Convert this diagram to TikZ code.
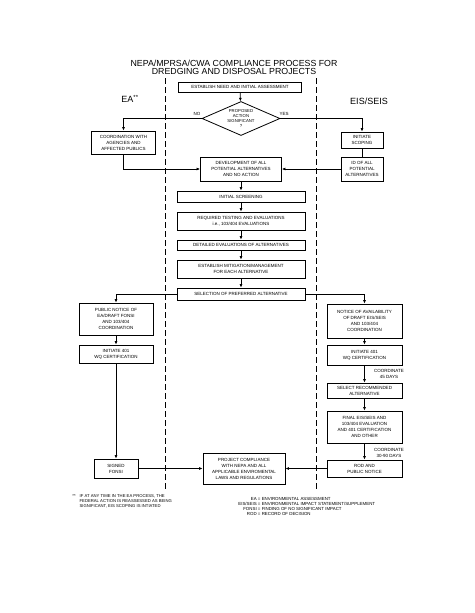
\documentclass[tikz,border=0pt]{standalone}
\usepackage{fontspec}
\setmainfont{Liberation Sans}
\usetikzlibrary{arrows.meta,shapes.geometric,shadows}

\begin{document}
\begin{tikzpicture}[x=1pt,y=-1pt,line width=0.8pt,
  box/.style={draw,fill=white,align=center,inner sep=1pt,font=\fontsize{4.5}{6}\selectfont,
    drop shadow={shadow xshift=0.8pt,shadow yshift=-0.8pt,opacity=1,fill=black}},
  lbl/.style={align=center,inner sep=0pt,font=\fontsize{4.5}{6}\selectfont},
  arr/.style={-{Latex[length=3.5pt,width=3pt]}},
  sep/.style={dash pattern=on 6pt off 3pt,line width=0.8pt}]
\useasboundingbox (0,0) rectangle (474,613);

\node[align=center,inner sep=0pt,font=\fontsize{8.8}{8}\selectfont] (title) at (234,67) {NEPA/MPRSA/CWA COMPLIANCE PROCESS FOR\\DREDGING AND DISPOSAL PROJECTS};

\draw[sep] (165,78) -- (165,490);
\draw[sep] (316,78) -- (316,490);

\node[inner sep=0pt,font=\fontsize{9}{9}\selectfont] (ea) at (130,99) {EA\textsuperscript{**}};
\node[inner sep=0pt,font=\fontsize{9}{9}\selectfont] (eis) at (369,101) {EIS/SEIS};

% middle column
\node[box,minimum width=123pt,minimum height=10pt] (need) at (240,87) {ESTABLISH NEED AND INITIAL ASSESSMENT};
\node[diamond,draw,fill=white,aspect=2.33,minimum width=78pt,minimum height=34pt,lbl,font=\fontsize{4.3}{5.2}\selectfont] (sig) at (241,118.5) {PROPOSED\\ACTION\\SIGNIFICANT\\?};
\node[lbl] (no) at (197,114) {NO};
\node[lbl] (yes) at (284,114) {YES};
\node[box,minimum width=81pt,minimum height=24pt] (devel) at (241,169) {DEVELOPMENT OF ALL\\POTENTIAL ALTERNATIVES\\AND NO ACTION};
\node[box,minimum width=128pt,minimum height=11pt] (screen) at (241,196.5) {INITIAL SCREENING};
\node[box,minimum width=128pt,minimum height=18pt] (testing) at (241,221) {REQUIRED TESTING AND EVALUATIONS\\i.e., 103/404 EVALUATIONS};
\node[box,minimum width=128pt,minimum height=10pt] (detail) at (241,245) {DETAILED EVALUATIONS OF ALTERNATIVES};
\node[box,minimum width=128pt,minimum height=18pt] (mitig) at (241,269) {ESTABLISH MITIGATION/MANAGEMENT\\FOR EACH ALTERNATIVE};
\node[box,minimum width=128pt,minimum height=12pt] (select) at (241,294) {SELECTION OF PREFERRED ALTERNATIVE};
\node[box,minimum width=82pt,minimum height=31pt] (comply) at (244,468.5) {PROJECT COMPLIANCE\\WITH NEPA AND ALL\\APPLICABLE ENVIROMENTAL\\LAWS AND REGULATIONS};

% EA side
\node[box,minimum width=64pt,minimum height=23pt] (coord) at (123.5,142.5) {COORDINATION WITH\\AGENCIES AND\\AFFECTED PUBLICS};
\node[box,minimum width=74pt,minimum height=32pt] (pubnot) at (116,319) {PUBLIC NOTICE OF\\EA/DRAFT FONSI\\AND 103/404\\COORDINATION};
\node[box,minimum width=74pt,minimum height=18pt] (wqleft) at (116,354) {INITIATE 401\\WQ CERTIFICATION};
\node[box,minimum width=44pt,minimum height=19pt] (fonsi) at (116,468.5) {SIGNED\\FONSI};

% EIS side
\node[box,minimum width=42pt,minimum height=16pt] (scope) at (362,140) {INITIATE\\SCOPING};
\node[box,minimum width=42pt,minimum height=24pt] (idalt) at (362,169) {ID OF ALL\\POTENTIAL\\ALTERNATIVES};
\node[box,minimum width=75pt,minimum height=34pt] (avail) at (364.5,321) {NOTICE OF AVAILABILITY\\OF DRAFT EIS/SEIS\\AND 103/404\\COORDINATION};
\node[box,minimum width=75pt,minimum height=20pt] (wqright) at (364.5,355) {INITIATE 401\\WQ CERTIFICATION};
\node[lbl] (days45) at (389,374) {COORDINATE\\45 DAYS};
\node[box,minimum width=75pt,minimum height=15pt] (recalt) at (364.5,390.5) {SELECT RECOMMENDED\\ALTERNATIVE};
\node[box,minimum width=75pt,minimum height=32pt] (final) at (364.5,427) {FINAL EIS/SEIS AND\\103/404 EVALUATION\\AND 401 CERTIFICATION\\AND OTHER};
\node[lbl] (days90) at (389,452.5) {COORDINATE\\30-90 DAYS};
\node[box,minimum width=75pt,minimum height=17pt] (rod) at (364.5,468.5) {ROD AND\\PUBLIC NOTICE};

\draw[arr] (need) -- (sig);
\draw[arr] (sig.west) -| (coord.north);
\draw[arr] (sig.east) -| (scope.north);
\draw (scope) -- (idalt);
\draw[arr] (coord.south) |- (devel.west);
\draw[arr] (idalt) -- (devel);
\draw[arr] (devel) -- (screen);
\draw[arr] (screen) -- (testing);
\draw[arr] (testing) -- (detail);
\draw[arr] (detail) -- (mitig);
\draw[arr] (mitig) -- (select);
\draw[arr] (select.west) -| (pubnot.north);
\draw[arr] (select.east) -| (avail.north);
\draw[arr] (pubnot) -- (wqleft);
\draw[arr] (wqleft) -- (fonsi);
\draw[arr] (fonsi) -- (comply);
\draw[arr] (avail) -- (wqright);
\draw[arr] (wqright) -- (recalt);
\draw[arr] (recalt) -- (final);
\draw[arr] (final) -- (rod);
\draw[arr] (rod) -- (comply);

% notes
\node[anchor=west,inner sep=0pt,font=\fontsize{4.2}{5}\selectfont] (note) at (72,501) {\begin{tabular}{@{}l@{\hspace{4pt}}l@{}}**&IF AT ANY TIME IN THE EA PROCESS, THE\\&FEDERAL ACTION IS REASSESSED AS BEING\\&SIGNIFICANT, EIS SCOPING IS INTIATED\end{tabular}};
\node[anchor=west,inner sep=0pt,font=\fontsize{4.4}{5}\selectfont] (legend) at (238,506.5) {\begin{tabular}{@{}r@{ = }l@{}}EA&ENVIRONMENTAL ASSESSMENT\\EIS/SEIS&ENVIRONMENTAL IMPACT STATEMENT/SUPPLEMENT\\FONSI&FINDING OF NO SIGNIFICANT IMPACT\\ROD&RECORD OF DECISION\end{tabular}};
\end{tikzpicture}
\end{document}
